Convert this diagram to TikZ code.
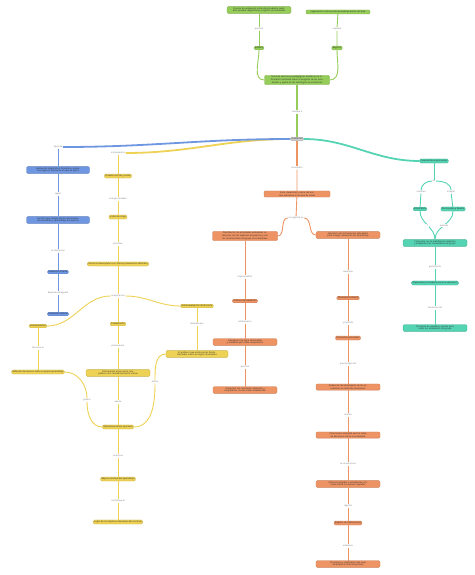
\documentclass[tikz,border=0pt]{standalone}
\usepackage{fontspec}
\setmainfont{Open Sans}
\usetikzlibrary{positioning}

\definecolor{mgreen}{RGB}{150,205,90}
\definecolor{mblue}{RGB}{110,150,225}
\definecolor{myellow}{RGB}{238,210,85}
\definecolor{morange}{RGB}{238,148,100}
\definecolor{mteal}{RGB}{85,212,180}
\definecolor{mgray}{RGB}{205,205,205}
\newcommand{\mapfont}{\fontsize{2.2pt}{2.7pt}\selectfont}

\begin{document}
\begin{tikzpicture}[x=1pt, y=-1pt,
        box/.style={rounded corners=1.2pt, align=center, inner xsep=1pt, inner ysep=0.9pt,
            font=\mapfont, text=black!85, line width=0.3pt},
        gbox/.style={box, fill=mgreen, draw=mgreen!85!black},
        bbox/.style={box, fill=mblue, draw=mblue!85!black},
        ybox/.style={box, fill=myellow, draw=myellow!85!black},
        obox/.style={box, fill=morange, draw=morange!85!black},
        tbox/.style={box, fill=mteal, draw=mteal!85!black},
        cbox/.style={box, fill=mgray, draw=black!35},
        lbl/.style={font=\mapfont, text=black!55, fill=white, inner sep=0.6pt},
        gline/.style={mgreen, line width=0.9pt},
        bline/.style={mblue, line width=0.9pt},
        yline/.style={myellow, line width=0.9pt},
        oline/.style={morange, line width=0.9pt},
        tline/.style={mteal, line width=0.9pt},
        main/.style={line width=1.8pt}
    ]
    \useasboundingbox (0,0) rectangle (474,575);

    % tronco
    \node[gbox, text width=62pt] (g1) at (259,10) {Proceso de evaluación inicial del estudiante mediante pruebas diagnósticas y registro de resultados};
    \node[gbox, minimum width=64pt] (g2) at (338,12) {Seguimiento continuo del aprendizaje dentro del aula};
    \node[lbl] (gl1) at (259,29) {permite};
    \node[lbl] (gl2) at (337,29) {requiere};
    \node[gbox] (g3) at (259,48) {Análisis};
    \node[gbox] (g4) at (337,48) {Registro};
    \node[gbox, text width=63pt] (g5) at (297,80) {Toma de decisiones pedagógicas basada en la información obtenida sobre el progreso de los estudiantes y ajuste de las estrategias de enseñanza};
    \node[lbl] (gl3) at (297,112) {conduce a};
    \node[cbox] (c) at (297,139) {Evaluación};
    \draw[gline] (g1) -- (gl1) -- (g3);
    \draw[gline] (g2) -- (gl2) -- (g4);
    \draw[gline] (g3) to[out=-90, in=180] (g5.west);
    \draw[gline] (g4) to[out=-90, in=0] (g5.east);
    \draw[gline, line width=1.3pt] (g5) -- (gl3) -- (c);

    % ramas principales
    \node[lbl] (b0) at (58,147) {tipos de};
    \node[lbl] (y0) at (118,153) {instrumentos};
    \node[lbl] (o0) at (297,168) {momentos};
    \node[tbox] (t0) at (434,161) {Características principales};
    \draw[yline, main] (c.west) to[out=180, in=0] (y0.east);
    \draw[bline, main] (c.west) to[out=180, in=0] (b0.east);
    \draw[oline, main] (c) -- (o0);
    \draw[tline, main] (c.east) to[out=0, in=180] (t0.west);

    % azul
    \node[bbox, text width=61pt] (b1) at (58,170) {Evaluación diagnóstica, formativa y sumativa según el momento en que se aplica};
    \node[lbl] (bl1) at (58,194) {según};
    \node[bbox, text width=61pt] (b2) at (58,220) {Función que cumple dentro del proceso de enseñanza y aprendizaje del alumno};
    \node[lbl] (bl2) at (58,251) {se clasifica en};
    \node[bbox] (b3) at (58,272) {Evaluación interna};
    \node[lbl] (bl3) at (58,293) {depende del agente};
    \node[bbox] (b4) at (58,314) {Evaluación externa};
    \draw[bline] (b0) -- (b1) -- (bl1) -- (b2) -- (bl2) -- (b3) -- (bl3) -- (b4);

    % amarillo
    \node[ybox] (y1) at (118,176) {Pruebas escritas y orales};
    \node[lbl] (yl1) at (118,199) {incluyen también};
    \node[ybox] (y2) at (118,217) {Listas de cotejo};
    \node[lbl] (yl2) at (118,244) {permiten};
    \node[ybox] (y3) at (118,264) {Valorar el desempeño con criterios previamente definidos};
    \node[lbl] (yl3) at (118,296) {se aplican en};
    \node[ybox] (y4) at (38,326) {Autoevaluación};
    \node[ybox] (y5) at (118,324) {Coevaluación};
    \node[ybox] (y6) at (197,306) {Heteroevaluación del docente};
    \node[lbl] (yl4) at (38,348) {favorece la};
    \node[ybox] (y7) at (38,372) {Reflexión del alumno sobre su propio aprendizaje};
    \node[lbl] (yl5) at (118,346) {promueve la};
    \node[ybox, text width=62pt] (y8) at (118,373) {Participación activa entre compañeros con retroalimentación mutua};
    \node[lbl] (yl6) at (197,324) {realizada por};
    \node[ybox, text width=60pt] (y9) at (197,354) {El profesor que emite juicios fundamentados sobre los logros alcanzados};
    \node[lbl] (yl7) at (87,400) {genera};
    \node[lbl] (yl8) at (118,402) {aporta};
    \node[lbl] (yl9) at (155,382) {ofrece};
    \node[ybox] (y10) at (118,427) {Retroalimentación oportuna};
    \node[lbl] (yl10) at (118,456) {orienta la};
    \node[ybox] (y11) at (118,479) {Mejora continua del aprendizaje};
    \node[lbl] (yl11) at (118,501) {contribuye al};
    \node[ybox] (y12) at (118,522) {Logro de los objetivos educativos del currículo};
    \draw[yline] (y0) -- (y1) -- (yl1) -- (y2) -- (yl2) -- (y3) -- (yl3) -- (y5);
    \draw[yline] (yl3.west) to[out=180, in=0] (y4.east);
    \draw[yline] (yl3.east) to[out=0, in=180] (y6.west);
    \draw[yline] (y4) -- (yl4) -- (y7);
    \draw[yline] (y5) -- (yl5) -- (y8);
    \draw[yline] (y6) -- (yl6) -- (y9);
    \draw[yline] (y7.east) to[out=0, in=90] (yl7);
    \draw[yline] (yl7) to[out=-90, in=180] (y10.west);
    \draw[yline] (y8) -- (yl8) -- (y10);
    \draw[yline] (y9.west) to[out=180, in=90] (yl9);
    \draw[yline] (yl9) to[out=-90, in=0] (y10.east);
    \draw[yline] (y10) -- (yl10) -- (y11) -- (yl11) -- (y12);

    % naranja
    \node[obox, text width=64pt] (o1) at (297,194) {Inicio, desarrollo y cierre del proceso educativo en el aula de clases};
    \node[lbl] (ol1) at (296,218) {se organiza en};
    \node[obox, text width=63pt] (o2) at (245,236) {Planificación de actividades evaluativas coherentes con los objetivos propuestos y con las características del grupo de estudiantes};
    \node[obox, text width=62pt] (o3) at (348,235) {Aplicación de instrumentos adecuados para recoger evidencias del aprendizaje};
    \node[lbl] (ol2) at (245,277) {implica definir};
    \node[obox] (o4) at (245,301) {Criterios de evaluación};
    \node[lbl] (ol3) at (245,322) {establece los};
    \node[obox, text width=62pt] (o5) at (245,342) {Indicadores de logro observables y medibles para cada competencia};
    \node[lbl] (ol4) at (245,367) {permite};
    \node[obox, text width=62pt] (o6) at (245,390) {Interpretar los resultados obtenidos y compararlos con las metas establecidas};
    \node[lbl] (ol5) at (348,272) {mediante};
    \node[obox] (o7) at (348,298) {Observación directa};
    \node[lbl] (ol6) at (348,323) {y también};
    \node[obox] (o8) at (348,338) {Entrevistas personales};
    \node[lbl] (ol7) at (348,364) {que recogen las};
    \node[obox, text width=62pt] (o9) at (348,387) {Evidencias del desempeño de los estudiantes en distintas situaciones};
    \node[lbl] (ol8) at (348,415) {analiza};
    \node[obox, text width=62pt] (o10) at (348,435) {Información relevante para la toma de decisiones sobre la enseñanza};
    \node[lbl] (ol9) at (348,464) {se comunica en};
    \node[obox, text width=62pt] (o11) at (348,484) {Informes dirigidos a estudiantes y familias sobre los avances logrados};
    \node[lbl] (ol10) at (348,506) {registra};
    \node[obox] (o12) at (348,523) {Registro de calificaciones};
    \node[lbl] (ol11) at (348,546) {establece};
    \node[obox, text width=62pt] (o13) at (348,564) {Promoción y certificación del nivel alcanzado al final del periodo};
    \draw[oline] (o0) -- (o1) -- (ol1);
    \draw[oline] (ol1.west) to[out=180, in=0] (o2.east);
    \draw[oline] (ol1.east) to[out=0, in=180] (o3.west);
    \draw[oline] (o2) -- (ol2) -- (o4) -- (ol3) -- (o5) -- (ol4) -- (o6);
    \draw[oline] (o3) -- (ol5) -- (o7) -- (ol6) -- (o8) -- (ol7) -- (o9) -- (ol8) -- (o10)
        -- (ol9) -- (o11) -- (ol10) -- (o12) -- (ol11) -- (o13);

    % turquesa
    \node[lbl] (tl0) at (434,181) {es};
    \node[lbl] (tl1) at (421,192) {continua};
    \node[lbl] (tl2) at (451,192) {integral};
    \node[tbox] (t1) at (420,209) {Sistemática};
    \node[tbox] (t2) at (453,209) {Participativa y flexible};
    \node[tbox, text width=62pt] (t3) at (435,243) {Coherente con la planificación didáctica y adaptada a las necesidades del grupo};
    \node[lbl] (tl5) at (435,267) {garantiza la};
    \node[tbox] (t4) at (435,283) {Objetividad y transparencia en la valoración};
    \node[lbl] (tl6) at (435,308) {se basa en los};
    \node[tbox, text width=62pt] (t5) at (435,328) {Principios de equidad y justicia para todos los estudiantes del grupo};
    \draw[tline] (t0) -- (tl0);
    \draw[tline] (tl0.west) to[out=180, in=90] (tl1);
    \draw[tline] (tl0.east) to[out=0, in=90] (tl2);
    \draw[tline] (tl1) -- (t1);
    \draw[tline] (tl2) -- (t2);
    \draw[tline] (t1.south) to[out=-90, in=90] node[lbl] (tl3) {y} (t3.north);
    \draw[tline] (t2.south) to[out=-90, in=90] node[lbl] (tl4) {además} (t3.north);
    \draw[tline] (t3) -- (tl5) -- (t4) -- (tl6) -- (t5);
\end{tikzpicture}
\end{document}
